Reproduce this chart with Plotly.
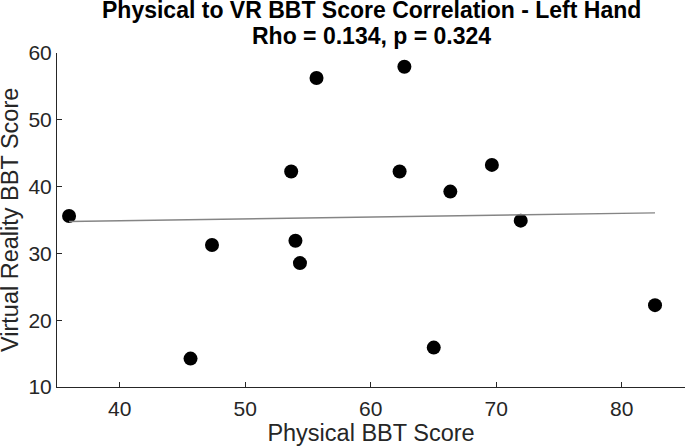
import numpy as np
import plotly.graph_objects as go

# physical vs VR box-and-block scores, left hand
physical_bbt = [35.96, 45.64, 47.35, 53.66, 54.0, 54.36, 55.68, 62.3, 62.68, 65.02, 66.34, 69.65, 71.95, 82.65]
vr_bbt = [35.6, 14.25, 31.25, 42.25, 31.9, 28.55, 56.25, 42.25, 57.95, 15.9, 39.25, 43.25, 34.9, 22.25]

x_ticks = [40, 50, 60, 70, 80]
y_ticks = [10, 20, 30, 40, 50, 60]

title_lines = ["Physical to VR BBT Score Correlation - Left Hand", "Rho = 0.134, p = 0.324"]
y_label = "Virtual Reality BBT Score"
x_label = "Physical BBT Score"

# least squares fit drawn across the data range
slope, intercept = np.polyfit(physical_bbt, vr_bbt, 1)
fit_x = np.array([min(physical_bbt), max(physical_bbt)])
fit_y = slope * fit_x + intercept

font = "Liberation Sans, Arial, Helvetica, sans-serif"
axis_col = "#262626"

fig = go.Figure()

fig.add_trace(go.Scatter(
    x=physical_bbt,
    y=vr_bbt,
    mode="markers",
    marker=dict(color="black", size=14, line=dict(width=0)),
    showlegend=False,
))

fig.add_trace(go.Scatter(
    x=fit_x,
    y=fit_y,
    mode="lines",
    line=dict(color="#858585", width=1.4),
    showlegend=False,
))

# two title lines as separate annotations so the line gap can match
for i, line in enumerate(title_lines):
    fig.add_annotation(
        text=f"<b>{line}</b>",
        xref="paper", yref="paper",
        x=0.5, y=1,
        xanchor="center", yanchor="middle",
        yshift=43 - 26 * i,
        showarrow=False,
        font=dict(family=font, size=23, color="black"),
    )

# y label hugs the left edge like the matlab export
fig.add_annotation(
    text=y_label,
    xref="paper", yref="paper",
    x=0, y=0.5,
    xanchor="center", yanchor="middle",
    xshift=-47,
    textangle=-90,
    showarrow=False,
    font=dict(family=font, size=23.5, color=axis_col),
)

fig.update_layout(
    width=685,
    height=448,
    margin=dict(l=57, r=0, t=53, b=61),
    paper_bgcolor="white",
    plot_bgcolor="white",
    font=dict(family=font, color=axis_col, size=21),
)

fig.update_xaxes(
    range=[35, 85.04],
    tickvals=x_ticks,
    ticks="inside",
    ticklen=5,
    tickcolor=axis_col,
    showline=True,
    linecolor=axis_col,
    linewidth=1,
    showgrid=False,
    zeroline=False,
    automargin=False,
    ticklabelstandoff=3,
    tickfont=dict(size=21, color=axis_col),
    title=dict(text=x_label, font=dict(size=23.5, color=axis_col), standoff=2),
)

fig.update_yaxes(
    range=[10, 60],
    tickvals=y_ticks,
    ticks="inside",
    ticklen=5,
    tickcolor=axis_col,
    showline=True,
    linecolor=axis_col,
    linewidth=1,
    showgrid=False,
    zeroline=False,
    automargin=False,
    tickfont=dict(size=21, color=axis_col),
)

# drop the default 8px page margin so the figure fills the window
fig.write_html(
    "out.html",
    config={"displayModeBar": False},
    post_script="document.body.style.margin='0';",
)
